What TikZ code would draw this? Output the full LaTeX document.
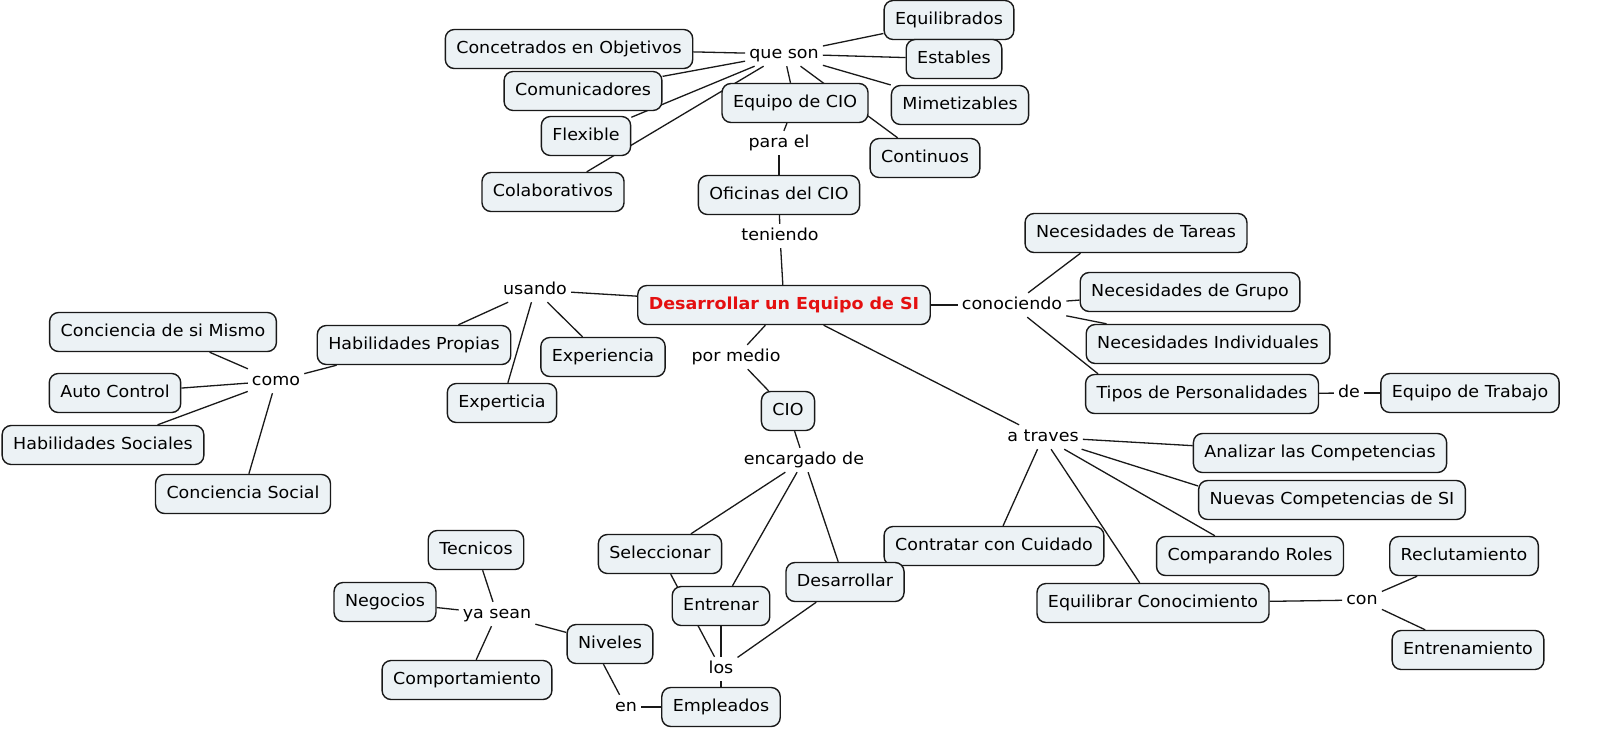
\documentclass[tikz,border=0pt]{standalone}
\usepackage{fontspec}
\setmainfont{DejaVu Sans}[FakeStretch=1.06]
\pgfdeclarelayer{bg}
\pgfsetlayers{bg,main}
\definecolor{cfill}{RGB}{236,242,245}
\definecolor{mainred}{RGB}{228,16,16}
\begin{document}
\begin{tikzpicture}[x=1pt,y=-1pt,
 concept/.style={draw=black!90, line width=1.4pt, rounded corners=9pt, fill=cfill,
   inner xsep=11pt, inner ysep=0pt, minimum height=39pt, text height=12.5pt, text depth=3.5pt,
   font=\fontsize{16.5}{19}\selectfont},
 mainc/.style={concept, text=mainred, font=\fontsize{16.5}{19}\selectfont\bfseries},
 lnk/.style={inner sep=4pt, text height=12.5pt, text depth=3.5pt, font=\fontsize{16.5}{19}\selectfont},
 conn/.style={line width=1.3pt, draw=black!90}]
\begin{pgfonlayer}{bg}
\fill[white] (0,0) rectangle (1600,748);
\end{pgfonlayer}
\useasboundingbox (0,0) rectangle (1600,748);
% concepts
\node[concept] (equil) at (949,20) {Equilibrados};
\node[concept] (concet) at (569,49) {Concetrados en Objetivos};
\node[concept] (estab) at (954,59) {Estables};
\node[concept] (comun) at (583,91) {Comunicadores};
\node[concept] (eqcio) at (795,103) {Equipo de CIO};
\node[concept] (mimet) at (960,105) {Mimetizables};
\node[concept] (flex) at (586,136) {Flexible};
\node[concept] (contin) at (925,158) {Continuos};
\node[concept] (colab) at (553,192) {Colaborativos};
\node[concept] (ofic) at (779,195) {Oficinas del CIO};
\node[concept] (ntar) at (1136,233) {Necesidades de Tareas};
\node[mainc] (main) at (784,305) {Desarrollar un Equipo de SI};
\node[concept] (ngru) at (1190,292) {Necesidades de Grupo};
\node[concept] (cdsm) at (163,332) {Conciencia de si Mismo};
\node[concept] (habp) at (414,345) {Habilidades Propias};
\node[concept] (expe) at (603,357) {Experiencia};
\node[concept] (nind) at (1208,344) {Necesidades Individuales};
\node[concept] (auto) at (115,393) {Auto Control};
\node[concept] (tipos) at (1202,394) {Tipos de Personalidades};
\node[concept] (eqtr) at (1470,393) {Equipo de Trabajo};
\node[concept] (expt) at (502,403) {Experticia};
\node[concept] (cio) at (788,411) {CIO};
\node[concept] (habs) at (103,445) {Habilidades Sociales};
\node[concept] (anal) at (1320,453) {Analizar las Competencias};
\node[concept] (nuev) at (1332,500) {Nuevas Competencias de SI};
\node[concept] (csoc) at (243,494) {Conciencia Social};
\node[concept] (contr) at (994,546) {Contratar con Cuidado};
\node[concept] (tecn) at (476,550) {Tecnicos};
\node[concept] (selec) at (660,554) {Seleccionar};
\node[concept] (compr) at (1250,556) {Comparando Roles};
\node[concept] (recl) at (1464,556) {Reclutamiento};
\node[concept] (desa) at (845,582) {Desarrollar};
\node[concept] (nego) at (385,602) {Negocios};
\node[concept] (entr) at (721,606) {Entrenar};
\node[concept] (equi) at (1153,603) {Equilibrar Conocimiento};
\node[concept] (nive) at (610,644) {Niveles};
\node[concept] (entm) at (1468,650) {Entrenamiento};
\node[concept] (comp) at (467,680) {Comportamiento};
\node[concept] (empl) at (721,707) {Empleados};
% linking phrases
\node[lnk] (qs) at (784,54) {que son};
\node[lnk] (parael) at (779,143) {para el};
\node[lnk] (ten) at (780,236) {teniendo};
\node[lnk] (usa) at (535,290) {usando};
\node[lnk] (cono) at (1012,305) {conociendo};
\node[lnk] (pm) at (736,357) {por medio};
\node[lnk] (como) at (276,381) {como};
\node[lnk] (atr) at (1043,437) {a traves};
\node[lnk] (enc) at (804,460) {encargado de};
\node[lnk] (ya) at (497,614) {ya sean};
\node[lnk] (los) at (721,669) {los};
\node[lnk] (en) at (626,707) {en};
\node[lnk] (con) at (1362,600) {con};
\node[lnk] (de) at (1349,393) {de};
% connectors
\begin{pgfonlayer}{bg}
\draw[conn] (qs) -- (equil);
\draw[conn] (qs) -- (concet);
\draw[conn] (qs) -- (estab);
\draw[conn] (qs) -- (comun);
\draw[conn] (qs) -- (eqcio);
\draw[conn] (qs) -- (mimet);
\draw[conn] (qs) -- (flex);
\draw[conn] (qs) -- (contin);
\draw[conn] (qs) -- (colab);
\draw[conn] (eqcio) -- (parael);
\draw[conn] (parael) -- (ofic);
\draw[conn] (ofic) -- (ten);
\draw[conn] (ten) -- (main);
\draw[conn] (main) -- (usa);
\draw[conn] (usa) -- (habp);
\draw[conn] (usa) -- (expt);
\draw[conn] (usa) -- (expe);
\draw[conn] (habp) -- (como);
\draw[conn] (como) -- (cdsm);
\draw[conn] (como) -- (auto);
\draw[conn] (como) -- (habs);
\draw[conn] (como) -- (csoc);
\draw[conn] (main) -- (cono);
\draw[conn] (cono) -- (ntar.200);
\draw[conn] (cono) -- (ngru);
\draw[conn] (cono) -- (nind);
\draw[conn] (cono) -- (tipos.169);
\draw[conn] (tipos) -- (de);
\draw[conn] (de) -- (eqtr);
\draw[conn] (main) -- (pm);
\draw[conn] (pm) -- (cio);
\draw[conn] (cio) -- (enc);
\draw[conn] (enc) -- (selec);
\draw[conn] (enc) -- (entr);
\draw[conn] (enc) -- (desa);
\draw[conn] (main) -- (atr);
\draw[conn] (atr) -- (anal);
\draw[conn] (atr) -- (nuev.174);
\draw[conn] (atr) -- (compr);
\draw[conn] (atr) -- (equi);
\draw[conn] (atr) -- (contr);
\draw[conn] (equi) -- (con);
\draw[conn] (con) -- (recl);
\draw[conn] (con) -- (entm);
\draw[conn] (selec) -- (los);
\draw[conn] (entr) -- (los);
\draw[conn] (desa) -- (los);
\draw[conn] (los) -- (empl);
\draw[conn] (empl) -- (en);
\draw[conn] (en) -- (nive.252);
\draw[conn] (nive) -- (ya);
\draw[conn] (ya) -- (tecn);
\draw[conn] (ya) -- (nego);
\draw[conn] (ya) -- (comp);
\end{pgfonlayer}
\end{tikzpicture}
\end{document}
